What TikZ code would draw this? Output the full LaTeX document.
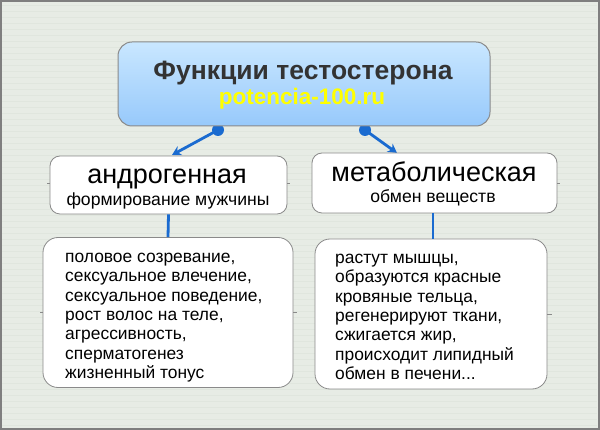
\documentclass[tikz,border=0pt]{standalone}
\usepackage{fontspec}
\setmainfont{Liberation Sans}
\usetikzlibrary{arrows.meta,calc}
\definecolor{bgc}{HTML}{E7ECE5}
\definecolor{bgline}{HTML}{E0E6DE}
\definecolor{framec}{HTML}{7F7F7F}
\definecolor{boxline}{HTML}{8A8A8A}
\definecolor{topA}{HTML}{C9E7FF}
\definecolor{topB}{HTML}{97C9FB}
\definecolor{linkc}{HTML}{1A6BD0}
\definecolor{titlec}{HTML}{333333}
\definecolor{urlc}{HTML}{FFFF00}
\tikzset{
  x=1pt, y=-1pt,
  topbox/.style={draw=boxline, line width=1pt, rounded corners=14pt, top color=topA, bottom color=topB, minimum width=372pt, minimum height=84pt, inner sep=0pt},
  midbox/.style={draw=boxline, line width=0.8pt, rounded corners=10pt, fill=white, inner sep=0pt},
  listbox/.style={draw=boxline, line width=0.8pt, rounded corners=15pt, fill=white, inner sep=0pt, minimum height=150pt},
  txt/.style={inner sep=0pt, anchor=base},
  listtxt/.style={inner sep=0pt, anchor=west, align=left, font=\fontsize{17.4}{19.3}\selectfont},
  link/.style={draw=linkc, line width=2.8pt},
  tick/.style={draw=boxline, line width=0.6pt}
}
\begin{document}
\begin{tikzpicture}
\fill[bgc] (0,0) rectangle (600,430);
\foreach \yy in {5,11,...,425} { \draw[bgline, line width=0.35pt] (2,\yy) -- (597,\yy); }
\draw[framec, line width=1.6pt] (1,1) rectangle (599,429);
\useasboundingbox (0,0) rectangle (600,430);

% connector start dots and links (drawn first, top box covers the dots' tops)
\coordinate (d1) at (218,130);
\coordinate (d2) at (365,130);
\coordinate (t1) at (172,155);
\coordinate (t2) at (397,153);
\draw[link, -{Stealth[length=9pt,width=10pt]}] (d1) -- (t1);
\draw[link, -{Stealth[length=9pt,width=10pt]}] (d2) -- (t2);
\fill[linkc] (d1) circle (6pt);
\fill[linkc] (d2) circle (6pt);

\node[topbox] (top) at (304,84) {};
\node[txt, font=\fontsize{26.5}{28}\selectfont\bfseries, text=titlec] (title) at (303,80) {Функции тестостерона};
\node[txt, font=\fontsize{22.5}{24}\selectfont\bfseries, text=urlc] (url) at (302,105) {potencia-100.ru};

\node[midbox, minimum width=237pt, minimum height=58pt] (andro) at (168.5,185) {};
\node[txt, font=\fontsize{27}{28}\selectfont] (androA) at (167,184) {андрогенная};
\node[txt, font=\fontsize{17.6}{19}\selectfont] (androB) at (168,206) {формирование мужчины};

\node[midbox, minimum width=245pt, minimum height=60pt] (meta) at (434.5,183) {};
\node[txt, font=\fontsize{27}{28}\selectfont] (metaA) at (434,182) {метаболическая};
\node[txt, font=\fontsize{17.6}{19}\selectfont] (metaB) at (433,203) {обмен веществ};

\node[listbox, minimum width=250pt] (alist) at (168,312.5) {};
\node[listtxt] (alistT) at (65,316.6) {\strut половое созревание,\\\strut сексуальное влечение,\\\strut сексуальное поведение,\\\strut рост волос на теле,\\\strut агрессивность,\\\strut сперматогенез\\\strut жизненный тонус};
\node[listbox, minimum width=232pt] (mlist) at (431,314) {};
\node[listtxt] (mlistT) at (335,317.6) {\strut растут мышцы,\\\strut образуются красные\\\strut кровяные тельца,\\\strut регенерируют ткани,\\\strut сжигается жир,\\\strut происходит липидный\\\strut обмен в печени...};

% small ticks at box sides
\draw[tick] (andro.west) ++(0,-2) -- ++(-3,0);
\draw[tick] (andro.east) ++(0,-2) -- ++(3,0);
\draw[tick] (meta.east) -- ++(3,0);
\draw[tick] (alist.west) -- ++(-3,0);
\draw[tick] (alist.east) -- ++(4,0);
\draw[tick] (mlist.east) -- ++(5,0);

% vertical links
\draw[link] (andro.south) -- (alist.north);
\draw[link] (433,213) -- (433,239);
\end{tikzpicture}
\end{document}
